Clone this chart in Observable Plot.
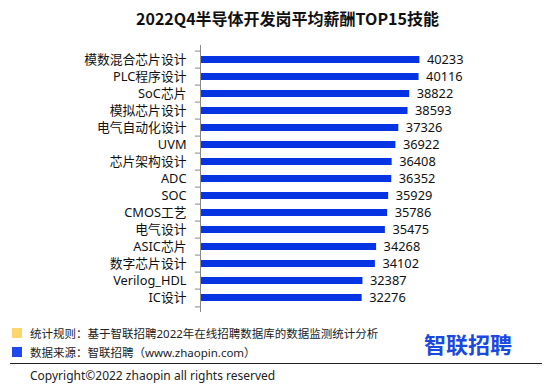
<!DOCTYPE html>
<html><head><meta charset="utf-8">
<script src="https://cdn.jsdelivr.net/npm/d3@7"></script>
<script src="https://cdn.jsdelivr.net/npm/@observablehq/plot@0.6"></script>
<style>
  html,body{margin:0;padding:0;background:#fff;}
  #wrap{position:relative;width:550px;height:391px;overflow:hidden;font-family:"Noto Sans","Noto Sans CJK SC",sans-serif;color:#111;}
  #title{position:absolute;left:0;width:575px;top:6px;text-align:center;font-size:16px;font-weight:bold;font-family:"Noto Sans CJK SC","Noto Sans",sans-serif;}
  #chart{position:absolute;left:0;top:30px;}
  .note{position:absolute;left:30px;font-size:11.5px;color:#222;}
  .sq{position:absolute;left:12px;width:10px;height:10px;}
  #hr{position:absolute;left:10px;width:532px;top:363px;height:0;border-top:1.3px solid #222;}
  #logo{position:absolute;left:424px;top:327px;font-size:22px;font-weight:bold;color:#1b49e0;font-family:"Noto Sans CJK SC",sans-serif;}
</style></head>
<body><div id="wrap">
<div id="title">2022Q4半导体开发岗平均薪酬TOP15技能</div>
<div id="chart"></div>
<div class="sq" style="top:328px;background:#ffd66e"></div>
<div class="note" style="top:325px">统计规则：基于智联招聘2022年在线招聘数据库的数据监测统计分析</div>
<div class="sq" style="top:347px;background:#2147ee"></div>
<div class="note" style="top:344px">数据来源：智联招聘（www.zhaopin.com）</div>
<div id="logo">智联招聘</div>
<div id="hr"></div>
<div class="note" style="top:367px;font-size:12px">Copyright©2022 zhaopin all rights reserved</div>
</div>
<script>
const skills = ["模数混合芯片设计","PLC程序设计","SoC芯片","模拟芯片设计","电气自动化设计","UVM","芯片架构设计","ADC","SOC","CMOS工艺","电气设计","ASIC芯片","数字芯片设计","Verilog_HDL","IC设计"];
const salaries = [40233,40116,38822,38593,37326,36922,36408,36352,35929,35786,35475,34268,34102,32387,32276];
const xDomain = [10000, 45000];

const data = skills.map((s,i)=>({skill:s, value:salaries[i]}));
const step = (312-45)/skills.length;

const chart = Plot.plot({
  width: 550, height: 290,
  marginTop: 15, marginBottom: 8, marginLeft: 200, marginRight: 96,
  style: {fontFamily: '"Noto Sans","Noto Sans CJK SC",sans-serif', fontSize: "12.8px", color: "#111", background: "transparent"},
  x: {domain: xDomain, axis: null},
  y: {domain: skills, paddingInner: 0.56, paddingOuter: 0.28, label: null, tickSize: 0, tickPadding: 14},
  marks: [
    Plot.barX(data, {x1: xDomain[0], x2: "value", y: "skill", fill: "#0634e2"}),
    Plot.text(data, {x: "value", y: "skill", text: d => String(d.value), textAnchor: "start", dx: 7, fontSize: 12.8, fill: "#111"}),
    Plot.ruleY(skills, {y: d => d, x1: xDomain[0] - 700, x2: xDomain[0], dy: -step/2, stroke: "#888"}),
    Plot.ruleY(skills.slice(-1), {y: d => d, x1: xDomain[0] - 700, x2: xDomain[0], dy: step/2, stroke: "#888"}),
    Plot.ruleX([xDomain[0]], {stroke: "#888"})
  ]
});
document.getElementById("chart").appendChild(chart);
</script>
</body></html>
